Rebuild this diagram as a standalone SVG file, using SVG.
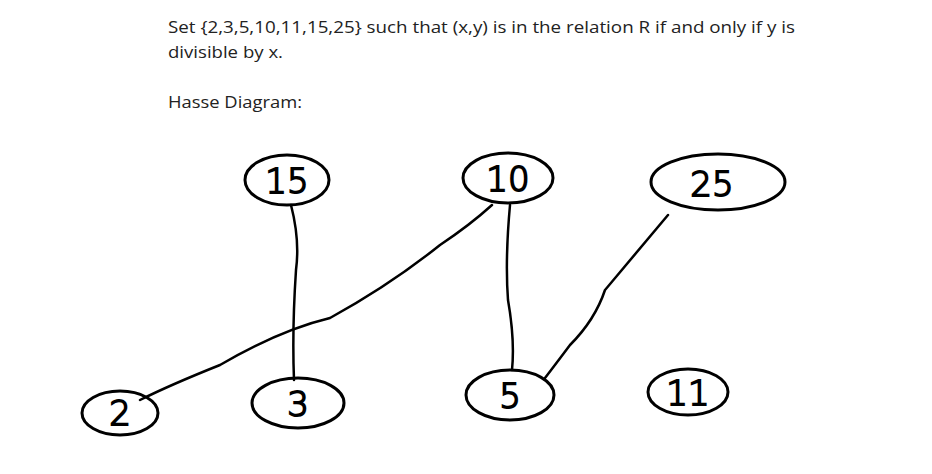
<svg xmlns="http://www.w3.org/2000/svg" width="932" height="474" viewBox="0 0 932 474">
<style>
.t{font-family:"Open Sans","Liberation Sans",Arial,sans-serif;font-size:17px;fill:#222}
.n ellipse{fill:none;stroke:#000;stroke-width:3}
.n text{font-family:"DejaVu Sans",sans-serif;font-size:34px;font-weight:300;fill:none;stroke:#000;stroke-width:1.8;text-anchor:middle}
.e path{fill:none;stroke:#000;stroke-width:2.5;stroke-linecap:round}
</style>
<rect width="932" height="474" fill="#fff"/>
<text class="t" x="168" y="33" textLength="627" lengthAdjust="spacingAndGlyphs">Set {2,3,5,10,11,15,25} such that (x,y) is in the relation R if and only if y is</text>
<text class="t" x="168" y="58" textLength="115" lengthAdjust="spacingAndGlyphs">divisible by x.</text>
<text class="t" x="168" y="108" textLength="134" lengthAdjust="spacingAndGlyphs">Hasse Diagram:</text>
<g class="e">
<path d="M291,205 Q300,240 296,270 Q292,330 294,380"/>
<path d="M492,205 Q470,225 440,245 Q390,285 330,318 Q280,330 220,365 Q170,385 140,400"/>
<path d="M510,205 Q505,260 508,300 Q515,340 512,370"/>
<path d="M668,215 Q630,260 605,290 Q595,320 570,345 Q555,365 545,378"/>
</g>
<g id="n15" class="n"><ellipse cx="287" cy="180" rx="42" ry="25"/><text x="287" y="193">15</text></g>
<g id="n10" class="n"><ellipse cx="508" cy="178" rx="45" ry="25"/><text x="508" y="191">10</text></g>
<g id="n25" class="n"><ellipse cx="718" cy="182" rx="67" ry="28"/><text x="712" y="196">25</text></g>
<g id="n2" class="n"><ellipse cx="120" cy="413" rx="38" ry="22"/><text x="120" y="425">2</text></g>
<g id="n3" class="n"><ellipse cx="298" cy="403" rx="46" ry="25"/><text x="298" y="416">3</text></g>
<g id="n5" class="n"><ellipse cx="510" cy="395" rx="44" ry="25"/><text x="510" y="408">5</text></g>
<g id="n11" class="n"><ellipse cx="688" cy="392" rx="40" ry="23"/><text x="688" y="405">11</text></g>
</svg>
